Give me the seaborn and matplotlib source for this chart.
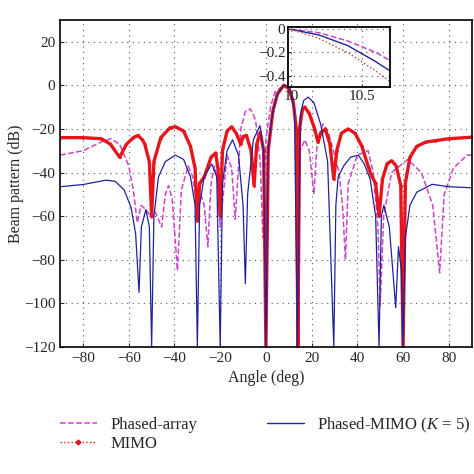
import numpy as np
import pandas as pd
import matplotlib
matplotlib.use("Agg")
import matplotlib.pyplot as plt
from matplotlib.lines import Line2D
import seaborn as sns

mimo_deg = [-90,-80,-72,-68,-64,-61,-58,-56,-54,-53,-51,-50,-49,-46,-42,-39.5,-36,-33,-31,-30,-29,-27,-24,-22,-21,-20,-19,-17,-15,-13,-11,-10,-8.5,-6.5,-5.2,-4,-2.5,-1,0,1,3,5,7.8,10,12,13.3,14,14.7,16,17,19,21,22.8,24,26,28,29.7,31,33,36,39,42,45,46,48,49.5,51,53,55,57,59,60,61,63,66,70,74,80,90]
mimo_db = [-24,-24,-24.5,-27,-33,-27,-24,-23,-25,-27,-35,-60,-35,-24,-19.5,-19,-21,-28,-38,-62,-45,-42,-33,-31,-38,-60,-30,-21,-19,-22,-27,-23.5,-23,-30,-46,-27,-21.5,-30,-120,-30,-12,-4,0,-1.5,-8,-20,-120,-20,-11,-10,-13,-19,-26,-22,-20,-27,-43,-30,-22,-20,-22,-28,-38,-41,-45,-60,-43,-36,-34.6,-37,-46,-120,-45,-33,-28,-26,-25.4,-24.5,-23.8]

pm_deg = [-90,-80,-70,-66,-62,-59,-57,-55.5,-54.5,-52.5,-51,-50,-49,-47,-44,-39.6,-36,-33,-31,-30,-29,-27,-23.7,-21.5,-20,-19,-17,-14.6,-12,-10,-9,-8,-5.5,-2.6,-1,0,1,3,5,7.8,10,11,12.5,13.8,15,16.5,18.5,21,24,27,29.7,30.6,31.6,34,37,40.4,43,45.6,48,49.5,50.5,51.6,54,56.8,58,59.3,60,61,63,66,72.7,80,90]
pm_db = [-46.5,-45.5,-43.5,-44,-48,-56,-68,-95,-65,-57,-65,-120,-60,-42,-35,-32,-34,-42,-55,-120,-55,-42,-36,-42,-120,-45,-30,-25,-32,-55,-91,-50,-25,-18.5,-30,-120,-28,-12,-4,0,-0.4,-4,-12,-120,-14,-7,-5.4,-8,-18,-35,-120,-55,-42,-37,-33,-32,-36,-43,-60,-120,-60,-55,-65,-102,-74,-85,-120,-70,-55,-49,-45.4,-46.5,-47]

pa_deg = [-90,-80,-72,-68,-64,-60,-58,-56.3,-54.6,-52.5,-50,-48.5,-45.6,-44,-42.6,-41,-38.7,-37,-34,-32,-30,-28.5,-27,-25.4,-24,-22.5,-21,-20,-17,-15,-13.4,-11,-9,-6.8,-4.5,-2.5,-1.3,0,2,4,7.8,10.2,12,13.5,14.2,15,17,19,21,22.5,25,27.5,30,32,33.5,34.8,36,40,44.7,47,49,50,51.5,55,62,68,73,76,78,82,88,90]
pa_db = [-32,-30,-26,-24.5,-27,-37,-48,-63,-55,-57,-61,-58,-65,-50,-46,-52,-85,-48,-37,-42,-58,-50,-55,-74,-45,-37,-45,-65,-32,-38,-61.5,-20,-12,-10.8,-16,-35,-70,-25,-10,-3,0,-0.3,-6,-20,-100,-30,-25,-30,-50,-25,-17.7,-22,-32,-40,-55,-80,-45,-32,-30,-40,-65,-101,-60,-40,-34,-40,-55,-86,-50,-38,-32,-32]

inset_deg = [10.0, 10.2, 10.4, 10.6, 10.7]
inset_pa = [0, -0.03, -0.10, -0.20, -0.27]
inset_pm = [0, -0.05, -0.14, -0.28, -0.36]
inset_mimo = [0, -0.08, -0.20, -0.36, -0.45]

sns.set_style("ticks")
plt.rcParams['font.family'] = ['Liberation Serif', 'DejaVu Serif']
plt.rcParams['font.size'] = 11
plt.rcParams['mathtext.fontset'] = 'custom'
plt.rcParams['mathtext.it'] = 'Liberation Serif:italic'
plt.rcParams['mathtext.rm'] = 'Liberation Serif'

c_pa = '#cc44cc'
c_pm = '#22229a'
c_mimo = '#e8141c'

fig = plt.figure(figsize=(4.74, 4.74), dpi=100)
ax = fig.add_axes([0.127, 0.268, 0.868, 0.69])

sns.lineplot(x=pa_deg, y=pa_db, ax=ax, color=c_pa, lw=1.1, linestyle='--', sort=False)
sns.lineplot(x=mimo_deg, y=mimo_db, ax=ax, color=c_mimo, lw=2.4, marker='.', markersize=4,
             markeredgewidth=0, sort=False)
sns.lineplot(x=pm_deg, y=pm_db, ax=ax, color=c_pm, lw=0.9, sort=False)

ax.set_xlim(-90, 90)
ax.set_ylim(-120, 30)
ax.set_xticks(range(-80, 81, 20))
ax.set_yticks(range(-120, 21, 20))
ax.set_xticklabels([str(v).replace('-', '−') for v in range(-80, 81, 20)])
ax.set_yticklabels([str(v).replace('-', '−') for v in range(-120, 21, 20)])
ax.grid(True, linestyle=(0, (1, 4)), color='#555555', lw=0.8)
ax.tick_params(direction='in', length=3, labelsize=11)
for s in ax.spines.values():
    s.set_visible(True); s.set_linewidth(1.2); s.set_color('black')
ax.set_xlabel('Angle (deg)', fontsize=11.5)
ax.set_ylabel('Beam pattern (dB)', labelpad=0, fontsize=11.5)

handles = [Line2D([], [], color=c_pa, lw=1.1, ls='--'),
           Line2D([], [], color=c_mimo, lw=1.0, ls=':', marker='D', markersize=2.5),
           Line2D([], [], color=c_pm, lw=1.0)]
labels = ['Phased-array', 'MIMO', r'Phased-MIMO ($K$ = 5)']
fig.legend(handles, labels, loc='upper left',
           bbox_to_anchor=(0.095, 0.155), ncol=2, frameon=False, columnspacing=4.2,
           handlelength=2.2, labelspacing=0.15, fontsize=12)

ins = fig.add_axes([0.608, 0.816, 0.215, 0.127])
sns.lineplot(x=inset_deg, y=inset_pa, ax=ins, color=c_pa, lw=1.1, linestyle='--')
sns.lineplot(x=inset_deg, y=inset_pm, ax=ins, color=c_pm, lw=1.0)
sns.lineplot(x=inset_deg, y=inset_mimo, ax=ins, color='#b5482a', lw=1.0, linestyle=':')
ins.set_xlim(9.98, 10.7)
ins.set_ylim(-0.5, 0.02)
ins.set_xticks([10, 10.5])
ins.set_xticklabels(['10', '10.5'])
ins.set_yticks([0, -0.2, -0.4])
ins.set_yticklabels(['0', '−0.2', '−0.4'])
ins.grid(True, linestyle=(0, (1, 4)), color='#555555', lw=0.8)
ins.tick_params(direction='in', length=2, labelsize=11, pad=2)
for s in ins.spines.values():
    s.set_visible(True); s.set_linewidth(1.3); s.set_color('black')
ins.set_facecolor('white')

fig.savefig('out.png', dpi=100)
